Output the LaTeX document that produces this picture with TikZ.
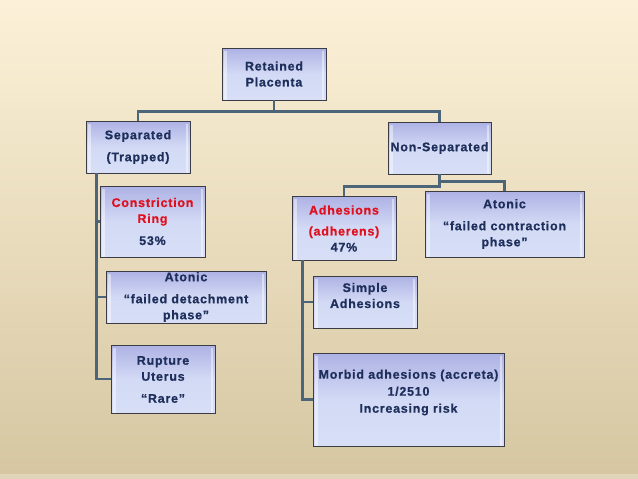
\documentclass[tikz,border=0pt]{standalone}
\usepackage{fontspec}
\setmainfont{Liberation Sans}[BoldFont={Liberation Sans Bold}, BoldFeatures={FakeBold=0.6}, LetterSpace=6]
\usetikzlibrary{shadows,calc}
\definecolor{bgtop}{HTML}{FCF1D8}
\definecolor{bgbot}{HTML}{D6C7A2}
\definecolor{btop}{HTML}{8282D0}
\definecolor{bmid}{HTML}{D3DAF5}
\definecolor{bmid2}{HTML}{D9E0F7}
\definecolor{bbot}{HTML}{93AA9E}
\definecolor{txt}{HTML}{1E2F5C}
\definecolor{redtxt}{HTML}{E0101E}
\definecolor{conn}{HTML}{4D6579}
\definecolor{edge}{HTML}{3C3C44}
\pgfdeclareverticalshading{boxshade}{100bp}{color(0bp)=(bbot); color(4bp)=(bbot); color(14bp)=(bmid2); color(50bp)=(bmid); color(80bp)=(btop!55!bmid); color(100bp)=(btop)}
\tikzset{
  x=1pt, y=-1pt,
  box/.style={draw=edge, line width=0.9pt, shading=boxshade, inner sep=0pt,
    drop shadow={shadow xshift=1.2pt, shadow yshift=-1.2pt, opacity=0.35},
    path picture={
      \fill[white, opacity=0.45] ([xshift=2pt]path picture bounding box.south west) rectangle ([xshift=4.5pt,yshift=-3pt]path picture bounding box.north west);
      \fill[white, opacity=0.45] ([xshift=-4.5pt]path picture bounding box.south east) rectangle ([xshift=-2pt,yshift=-3pt]path picture bounding box.north east);
    }},
  lbl/.style={align=center, text=txt, font=\bfseries\fontsize{12.5}{16}\selectfont, inner sep=0pt},
  link/.style={draw=conn, line width=2.2pt}
}
\newcommand{\mkbox}[5]{% name, x1, y1, x2, y2
  \node[box, minimum width={#4-#2}, minimum height={#5-#3}] (#1) at ({(#2+#4)/2},{(#3+#5)/2}) {};
}
\begin{document}
\begin{tikzpicture}
\shade[top color=bgtop, bottom color=bgbot] (0,0) rectangle (638,474);
\fill[color=bgbot!75!white] (0,474) rectangle (638,479);
\useasboundingbox (0,0) rectangle (638,479);

% boxes
\mkbox{root}{222}{48}{326}{100}
\mkbox{sep}{86}{121}{190}{173}
\mkbox{non}{388}{122}{491}{174}
\mkbox{cr}{100}{186}{205}{257}
\mkbox{atd}{106}{271}{266}{323}
\mkbox{rup}{111}{345}{215}{413}
\mkbox{adh}{292}{196}{396}{260}
\mkbox{atc}{425}{191}{584}{257}
\mkbox{sim}{313}{276}{417}{328}
\mkbox{mor}{313}{353}{504}{446}

% connectors
\draw[link] (root.south) -- ++(0,11) -| (sep.north);
\draw[link] (root.south) -- ++(0,11) -| (non.north);
\draw[link] (non.south) -- ++(0,12) -| (adh.north);
\draw[link] (non.south) -- ++(0,7) -| (atc.north);
\draw[link] ([xshift=11pt]sep.south west) |- (cr.west);
\draw[link] ([xshift=11pt]sep.south west) |- (atd.west);
\draw[link] ([xshift=11pt]sep.south west) |- (rup.west);
\draw[link] ([xshift=11pt]adh.south west) |- (sim.west);
\draw[link] ([xshift=11pt]adh.south west) |- (mor.west);

% labels
\node[lbl] (troot) at (274,74) {Retained\\Placenta};
\node[lbl] (tsep) at (138,147) {Separated\\[6pt](Trapped)};
\node[lbl] (tnon) at (439.5,148) {Non-Separated};
\node[lbl] (tcr) at (152.5,221.5) {\textcolor{redtxt}{Constriction}\\\textcolor{redtxt}{Ring}\\[6pt]53\%};
\node[lbl] (tatd) at (186,297) {Atonic\\[6pt]“failed detachment\\phase”};
\node[lbl] (trup) at (163,379.5) {Rupture\\Uterus\\[6pt]“Rare”};
\node[lbl] (tadh) at (344,228.5) {\textcolor{redtxt}{Adhesions}\\[5pt]\textcolor{redtxt}{(adherens)}\\47\%};
\node[lbl] (tatc) at (504.5,224) {Atonic\\[6pt]“failed contraction\\phase”};
\node[lbl] (tsim) at (365,295.5) {Simple\\Adhesions};
\node[lbl] (tmor) at (408.5,392.5) {Morbid adhesions (accreta)\\[1pt]1/2510\\[1pt]Increasing risk};
\end{tikzpicture}
\end{document}
